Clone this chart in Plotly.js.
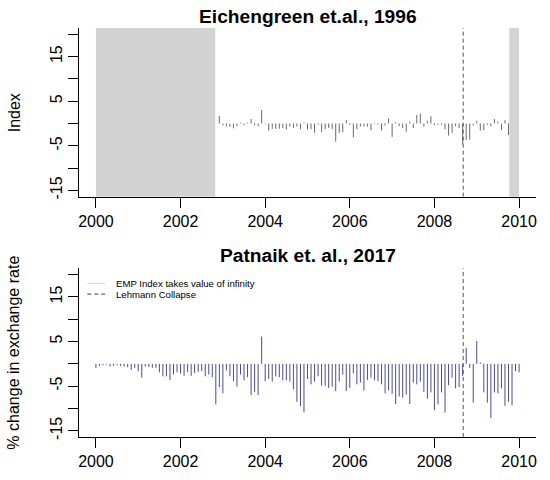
<!DOCTYPE html>
<html>
<head>
<meta charset="utf-8">
<script src="https://cdn.plot.ly/plotly-3.0.1.min.js"></script>
<style>html,body{margin:0;padding:0;background:#fff;}#chart{width:550px;height:480px;}</style>
</head>
<body>
<div id="chart"></div>
<script>
// ---- data ----
// Monthly observations, Jan 2000 = month index 0
var startYear = 2000;
// Eichengreen et al. (1996) EMP index: Dec 2002 (month 35) .. Oct 2009 (month 117)
var eichStartMonth = 35;
var eichValues = [
  1.7, -0.45, -0.6, -0.75, -1.1, -0.6, 0.2, -0.4, 0.2, 1.0, -0.4, -0.6,
  3.0, -0.2, -1.6, -1.2, -1.2, -1.2, -1.0, -1.3, -0.7, -1.0, -0.7, -1.3,
  0.2, -1.3, -1.3, -2.1, -0.3, -1.9, -1.3, -1.0, -1.2, -4.1, -2.1, -1.9,
  0.75, -0.3, -3.1, -1.3, -0.7, -0.7, -0.7, -1.5, 0.15, -0.3, -1.6, -0.45,
  1.1, -3.0, 0.3, -0.6, -1.0, -1.9, 0.45, -1.0, 1.9, 2.2, -0.7, 0.6,
  1.6, -0.4, -0.3, -0.3, -1.3, -2.7, -2.1, -0.6, -1.0, -4.7, -3.7, -3.6,
  -0.45, 0.6, -1.6, -1.5, -0.3, -0.6, 1.0, 0.45, -1.5, 0.75, -2.6
];
// Periods where the EMP index takes value of infinity (decimal years)
var infStart = [2000.0, 2009.77];
var infEnd   = [2002.82, 2010.0];
// Patnaik et al. (2017): Jan 2000 (month 0) .. Jan 2010 (month 120)
var patStartMonth = 0;
var patValues = [
  -0.9, -0.45, -0.3, -0.15, -0.6, -0.45, -0.3, -0.45, -0.6, -0.75, -1.35, -0.9,
  -1.65, -3.1, -0.6, -0.75, -0.9, -0.9, -1.9, -2.8, -2.8, -3.6, -2.4, -1.9,
  -2.2, -2.7, -1.9, -2.7, -2.1, -1.8, -1.65, -2.8, -2.4, -3.0, -9.1, -5.2,
  -6.6, -1.5, -2.8, -3.9, -5.1, -2.4, -3.7, -3.0, -7.0, -6.3, -7.0, 6.1,
  -3.9, -3.4, -4.0, -2.8, -3.0, -3.7, -3.7, -4.0, -5.7, -8.5, -9.5, -10.9,
  -3.4, -4.6, -4.0, -2.8, -4.9, -4.9, -5.4, -5.1, -6.1, -4.0, -2.4, -6.1,
  -5.4, -2.1, -4.6, -4.2, -6.0, -3.6, -3.1, -3.7, -3.9, -4.6, -6.6, -6.0,
  -6.7, -9.0, -7.3, -7.6, -6.9, -9.0, -4.2, -4.6, -4.0, -6.3, -7.8, -6.4,
  -10.4, -9.1, -6.4, -10.9, -4.8, -3.1, -5.5, -5.2, -2.7, 3.6, -0.9, -8.7,
  5.1, 0.3, -6.4, -8.7, -12.1, -6.4, -6.6, -5.5, -9.4, -8.5, -9.3, -1.65,
  -1.9
];
var lehmanDate = 2008.68;
var xTickVals = [2000, 2002, 2004, 2006, 2008, 2010];
var yTickVals = [-15, -10, -5, 0, 5, 10, 15, 20];
var yTickText = ['-15', '', '-5', '', '5', '', '15', ''];
var titles = ['Eichengreen et.al., 1996', 'Patnaik et. al., 2017'];
var yTitles = ['Index', '% change in exchange rate'];
var legendLabels = ['EMP Index takes value of infinity', 'Lehmann Collapse'];

// ---- build segments (type="h" style) ----
function spikes(startMonth, vals) {
  var xs = [], ys = [];
  for (var i = 0; i < vals.length; i++) {
    var x = startYear + (startMonth + i) / 12;
    xs.push(x, x, null);
    ys.push(0, vals[i], null);
  }
  return {x: xs, y: ys};
}
var s1 = spikes(eichStartMonth, eichValues);
var s2 = spikes(patStartMonth, patValues);

var FONT = 'Liberation Sans, Arial, Helvetica, sans-serif';

var traces = [
  {x: s1.x, y: s1.y, xaxis: 'x', yaxis: 'y', mode: 'lines', type: 'scatter',
   line: {color: '#6a6a6a', width: 1}, hoverinfo: 'skip', showlegend: false},
  {x: s2.x, y: s2.y, xaxis: 'x2', yaxis: 'y2', mode: 'lines', type: 'scatter',
   line: {color: '#4b4b96', width: 1}, hoverinfo: 'skip', showlegend: false}
];

var L = 79, R = 14.3, T = 28.3, B = 43.3;
var W = 550, H = 480;
var pw = W - L - R, ph = H - T - B;
function py(p) { return (H - B - p) / ph; }   // pixel y -> paper
function px(p) { return (p - L) / pw; }       // pixel x -> paper

function xax(anchor) {
  return {
    anchor: anchor, range: [1999.6, 2010.4], tickvals: xTickVals,
    ticktext: xTickVals.map(String),
    ticks: 'outside', ticklen: 10, tickwidth: 1, tickcolor: '#000',
    showline: true, linecolor: '#000', linewidth: 1, mirror: false,
    showgrid: false, zeroline: false,
    tickfont: {family: FONT, size: 16, color: '#000'}
  };
}
function yax(anchor, domain) {
  return {
    anchor: anchor, domain: domain, range: [-16.4, 21.4],
    tickvals: yTickVals, ticktext: yTickText, tickangle: -90,
    ticks: 'outside', ticklen: 10, tickwidth: 1, tickcolor: '#000',
    showline: true, linecolor: '#000', linewidth: 1, mirror: false,
    showgrid: false, zeroline: false,
    tickfont: {family: FONT, size: 16, color: '#000'}
  };
}

var shapes = [];
for (var k = 0; k < infStart.length; k++) {
  shapes.push({type: 'rect', xref: 'x', yref: 'y domain', x0: infStart[k], x1: infEnd[k],
    y0: 0, y1: 1, fillcolor: '#d3d3d3', line: {width: 0}, layer: 'below'});
}
['y', 'y2'].forEach(function (ya, i) {
  shapes.push({type: 'line', xref: i ? 'x2' : 'x', yref: ya + ' domain', x0: lehmanDate, x1: lehmanDate,
    y0: 0, y1: 1, line: {color: '#555', width: 1, dash: '4px,3px'}});
});
// legend keys (bottom panel)
shapes.push({type: 'line', xref: 'paper', yref: 'paper', x0: px(87.3), x1: px(105), y0: py(283.3), y1: py(283.3),
  line: {color: '#d3d3d3', width: 1}});
shapes.push({type: 'line', xref: 'paper', yref: 'paper', x0: px(87.3), x1: px(105), y0: py(294), y1: py(294),
  line: {color: '#444', width: 1, dash: '4px,3px'}});

var annotations = [
  {text: '<b>' + titles[0] + '</b>', xref: 'paper', yref: 'paper', x: 0.5, y: py(16.5),
   xanchor: 'center', yanchor: 'middle', showarrow: false, font: {family: FONT, size: 19.2, color: '#000'}},
  {text: '<b>' + titles[1] + '</b>', xref: 'paper', yref: 'paper', x: 0.5, y: py(255.5),
   xanchor: 'center', yanchor: 'middle', showarrow: false, font: {family: FONT, size: 19.2, color: '#000'}},
  {text: yTitles[0], xref: 'paper', yref: 'paper', x: px(14), y: py(112.5), textangle: -90,
   xanchor: 'center', yanchor: 'middle', showarrow: false, font: {family: FONT, size: 16, color: '#000'}},
  {text: yTitles[1], xref: 'paper', yref: 'paper', x: px(14), y: py(352.5), textangle: -90,
   xanchor: 'center', yanchor: 'middle', showarrow: false, font: {family: FONT, size: 16, color: '#000'}},
  {text: legendLabels[0], xref: 'paper', yref: 'paper', x: px(114), y: py(283.3),
   xanchor: 'left', yanchor: 'middle', showarrow: false, font: {family: FONT, size: 9.6, color: '#000'}},
  {text: legendLabels[1], xref: 'paper', yref: 'paper', x: px(114), y: py(294),
   xanchor: 'left', yanchor: 'middle', showarrow: false, font: {family: FONT, size: 9.6, color: '#000'}}
];

var layout = {
  width: W, height: H,
  margin: {l: L, r: R, t: T, b: B, pad: 0},
  paper_bgcolor: '#fff', plot_bgcolor: '#fff',
  showlegend: false,
  xaxis: xax('y'),
  yaxis: yax('x', [1 - 168.4 / ph, 1]),
  xaxis2: xax('y2'),
  yaxis2: yax('x2', [0, 168.4 / ph]),
  shapes: shapes,
  annotations: annotations,
  font: {family: FONT}
};
Plotly.newPlot('chart', traces, layout, {staticPlot: true, displayModeBar: false});
</script>
</body>
</html>
